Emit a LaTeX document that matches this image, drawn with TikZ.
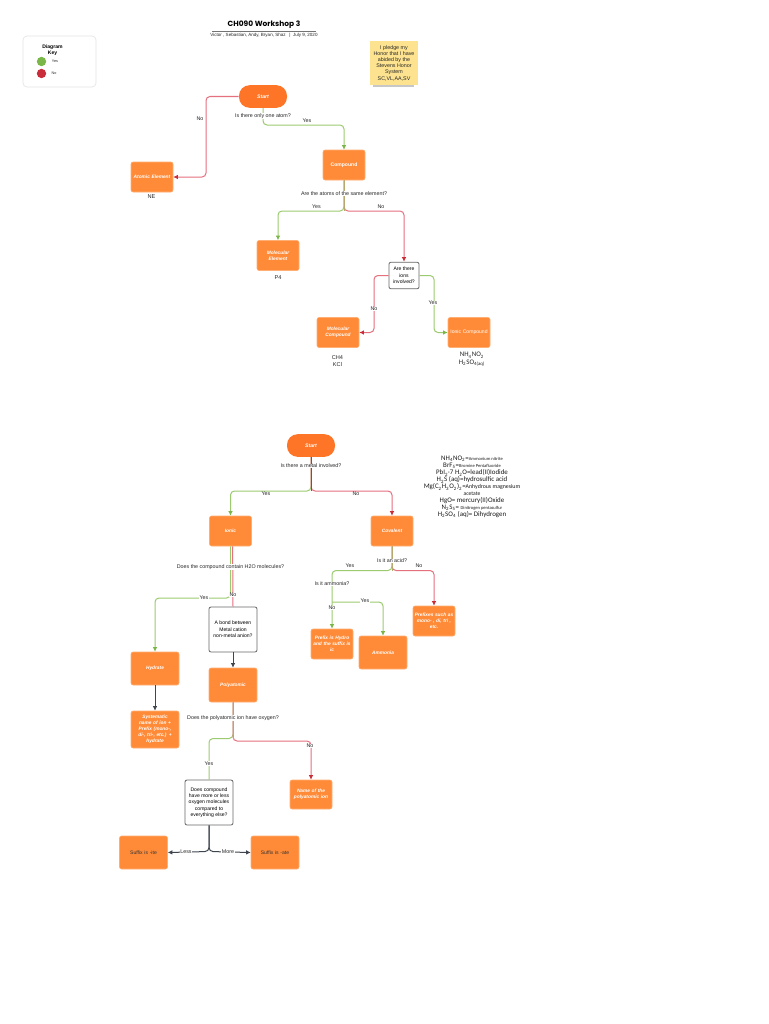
\documentclass[tikz,border=0pt]{standalone}
\usepackage{fontspec}
\setmainfont{Liberation Sans}
\newfontfamily\listfont{Carlito}
\newfontfamily\titlefont{Poppins}
\usetikzlibrary{arrows.meta,positioning,calc}
\definecolor{okg}{HTML}{7AB648}
\definecolor{nor}{HTML}{C92D39}
\definecolor{okgl}{HTML}{9CCB6F}
\definecolor{norl}{HTML}{E5707E}
\definecolor{boxo}{HTML}{FF8B38}
\definecolor{starto}{HTML}{FF7527}
\definecolor{notey}{HTML}{FDE38F}
\definecolor{dk}{HTML}{3F4650}
\definecolor{stemtan}{HTML}{B8A870}
\newcommand{\fs}[1]{\fontsize{#1pt}{\dimexpr #1pt*5/4\relax}\selectfont}
\newcommand{\sbs}[1]{\textsubscript{#1}}
\tikzset{
  x=.75pt,y=-.75pt,
  obox/.style 2 args={draw=boxo!70!white,line width=.4pt,fill=boxo,rounded corners=1.5pt,minimum width=#1*.75pt,minimum height=#2*.75pt,text width=#1*.75pt-1pt,inner sep=0pt,align=center,text=white,font=\fs{3.6}\itshape\bfseries},
  qbox/.style={draw=black!60,fill=white,rounded corners=1.5pt,line width=.6pt,inner sep=0pt,align=center,text=black,font=\fs{3.8}},
  startbox/.style={fill=starto,rounded corners=8pt,minimum width=36pt,minimum height=17pt,inner sep=0pt,text=white,font=\fs{3.8}\itshape\bfseries},
  lbl/.style={fill=white,inner sep=.4pt,text=black!85,font=\fs{4}},
  bare/.style={inner sep=0pt,text=black!85,align=center,font=\fs{3.8}},
  yesl/.style={draw=okgl,line width=.75pt,rounded corners=3pt,-{Latex[length=3.5pt,width=3.5pt,color=okg]}},
  nol/.style={draw=norl,line width=.75pt,rounded corners=3pt,-{Latex[length=3.5pt,width=3.5pt,color=nor]}},
  darkl/.style={draw=dk,line width=.75pt,rounded corners=3pt,-{Latex[length=3.5pt,width=3.5pt,color=dk]}},
  stem/.style={draw=#1,line width=.75pt},
}
\begin{document}
\begin{tikzpicture}
\useasboundingbox (0,0) rectangle (768,1024);
\fill[white] (0,0) rectangle (768,1024);

% header
\node[inner sep=0pt,font=\titlefont\fs{5.6}\bfseries] (title) at (264,25) {CH090 Workshop 3};
\coordinate (rulel) at (212,31); \coordinate (ruler) at (316,31);
\draw[black!55,line width=.4pt] (rulel) -- (ruler);
\node[bare,font=\fs{3.4}] (sub) at (264,35) {Victor , Sebastian, Andy, Bryan, Shaz \ \ | \ July 9, 2020};

% key
\node[draw=black!10,fill=white,rounded corners=3pt,minimum width=54.75pt,minimum height=38.25pt,line width=.5pt] (key) at (59.5,61.5) {};
\node[bare,font=\fs{3.8}\bfseries,text=black] (keyt) at (52.5,50.5) {Diagram\\Key};
\node[circle,fill=okg,minimum size=7pt,inner sep=0pt] (keyg) at (41.5,61.5) {};
\node[circle,fill=nor,minimum size=7pt,inner sep=0pt] (keyr) at (41.5,73.5) {};
\node[bare,font=\fs{2.8}] (keyy) at (55,61) {Yes};
\node[bare,font=\fs{2.8}] (keyn) at (54,73) {No};

% note
\fill[black!22] (373,83) rectangle (414,87);
\node[fill=notey,minimum width=36pt,minimum height=33pt,inner sep=0pt,align=center,font=\fontsize{4}{4.65}\selectfont,text=black!85] (note) at (394,63) {I pledge my\\Honor that I have\\abided by the\\Stevens Honor\\System\\SC,VL,AA,SV};

% part 1 nodes
\node[startbox] (s1) at (263,96.5) {Start};
\node[obox={42}{30}] (atomic) at (152,177) {Atomic Element};
\node[obox={42}{30},font=\fs{3.8}\bfseries] (comp) at (344,165) {Compound};
\node[obox={42}{30}] (molel) at (278,255.5) {Molecular\\Element};
\node[qbox,minimum width=22.5pt,minimum height=20pt] (ions) at (404,275.5) {Are there\\ions\\involved?};
\node[obox={42}{30}] (molc) at (338,332.5) {Molecular\\Compound};
\node[obox={42}{30},font=\fs{3.8}] (ionc) at (469,332.5) {Ionic Compound};

% part 1 bends
\coordinate (b1) at (263,125); \coordinate (b2) at (206,140);
\coordinate (b3) at (344,211); \coordinate (b4) at (374,310); \coordinate (b5) at (434,310);
\draw[yesl] (s1.south) -- (b1) -| (comp.north);
\draw[nol] (s1.west) -| (b2) |- (atomic.east);
\draw[yesl] (comp.south) -- (b3) -| (molel.north);
\draw[nol] (comp.south) -- (b3) -| (ions.north);
\draw[stem=stemtan] (comp.south) -- (b3);
\draw[nol] (ions.west) -| (b4) |- (molc.east);
\draw[yesl] (ions.east) -| (b5) |- (ionc.west);

\node[lbl] (q1) at (263,116) {Is there only one atom?};
\node[lbl] (y1) at (307,120.5) {Yes};
\node[lbl] (n1) at (200,119) {No};
\node[lbl] (q2) at (344,193.5) {Are the atoms of the same element?};
\node[lbl] (y2) at (316.5,207) {Yes};
\node[lbl] (n2) at (381,207) {No};
\node[lbl] (n3) at (374,309) {No};
\node[lbl] (y3) at (433,303) {Yes};
\node[bare,font=\fs{4.2}] (ne) at (151.5,197) {NE};
\node[bare,font=\fs{4.2}] (p4) at (278,278) {P4};
\node[bare,font=\fs{4.2}] (ch4) at (337.5,361.5) {CH4\\KCl};
\node[bare,font=\listfont\fontsize{5.2}{5.6}\selectfont] (nh) at (472,359.5) {NH\sbs{4}NO\sbs{2}\\H\sbs{2}SO\sbs{4(aq)}};

% part 2 nodes
\node[startbox] (s2) at (311,445.5) {Start};
\node[obox={42}{30}] (ionic) at (230.5,531) {Ionic};
\node[obox={42}{30}] (cov) at (392,531) {Covalent};
\node[obox={48}{33}] (hyd) at (155,668.5) {Hydrate};
\node[obox={48}{37}] (sys) at (155,729.5) {Systematic\\name of ion +\\Prefix (mono-,\\di-, tri-, etc.) +\\hydrate};
\node[qbox,minimum width=36pt,minimum height=33.75pt] (bond) at (233,629.5) {A bond between\\Metal cation\\non-metal anion?};
\node[obox={48}{34}] (poly) at (233,685) {Polyatomic};
\node[obox={42}{30}] (hydro) at (332,644) {Prefix is Hydro\\and the suffix is\\ic};
\node[obox={48}{33}] (amm) at (383,652.5) {Ammonia};
\node[obox={42}{30}] (pref) at (434,621) {Prefixes such as\\mono- , di, tri ,\\etc.};
\node[qbox,minimum width=36pt,minimum height=33.75pt] (more) at (209,802.5) {Does compound\\have more or less\\oxygen molecules\\compared to\\everything else?};
\node[obox={42}{29}] (npoly) at (311,794.5) {Name of the\\polyatomic ion};
\node[obox={48}{33},text=black!80,font=\fs{3.8}] (ite) at (143.5,852.5) {Suffix is -ite};
\node[obox={48}{33},text=black!80,font=\fs{3.8}] (ate) at (275,852.5) {Suffix is -ate};

% part 2 bends
\coordinate (c1) at (311,491); \coordinate (c2) at (392,570.5);
\coordinate (c3) at (230.5,598); \coordinate (c4) at (233,738.5);
\coordinate (c5) at (332,602); \coordinate (c6) at (209,851.5); \coordinate (c7) at (233,741);
\draw[yesl] (s2.south) -- (c1) -| (ionic.north);
\draw[nol] (s2.south) -- (c1) -| (cov.north);
\draw[stem=nor] (s2.south) -- (c1);
\draw[yesl] (cov.south) -- (c2) -| (hydro.north);
\draw[nol] (cov.south) -- (c2) -| (pref.north);
\draw[stem=stemtan] (cov.south) -- (c2);
\draw[yesl] (c5) -| (amm.north);
\draw[yesl] (ionic.south) -- (c3) -| (hyd.north);
\draw[draw=norl,line width=.75pt] ([xshift=1.6pt]ionic.south) -- (bond.north);
\draw[darkl] (bond.south) -- (poly.north);
\draw[darkl] (hyd.south) -- (sys.north);
\draw[yesl,-] (poly.south) -- (c4) -| (more.north);
\draw[nol] (poly.south) -- (c7) -| (npoly.north);
\draw[stem=stemtan] (poly.south) -- (c4);
\draw[darkl] (more.south) -- (c6) -- (ite.east);
\draw[darkl] (more.south) -- (c6) -- (ate.west);

\node[lbl] (q3) at (311,466) {Is there a metal involved?};
\node[lbl] (y4) at (266,494) {Yes};
\node[lbl] (n4) at (356,494) {No};
\node[lbl] (q4) at (230.5,567) {Does the compound contain H2O molecules?};
\node[lbl] (y5) at (204,598) {Yes};
\node[lbl] (n5) at (233,595) {No};
\node[lbl] (q5) at (392,561) {Is it an acid?};
\node[lbl] (y6) at (350,566) {Yes};
\node[lbl] (n6) at (419,566) {No};
\node[lbl] (q6) at (332,584) {Is it ammonia?};
\node[lbl] (y7) at (365,601) {Yes};
\node[lbl] (n7) at (332,608) {No};
\node[lbl] (q7) at (233,718) {Does the polyatomic ion have oxygen?};
\node[lbl] (y8) at (209,763.5) {Yes};
\node[lbl] (n8) at (310,746) {No};
\node[lbl] (l1) at (186,851.5) {Less};
\node[lbl] (m1) at (228,851.5) {More};

% formula list
\node[bare,font=\listfont\fs{5.2},text=black!90] (list) at (472,487) {%
NH\sbs{4}NO\sbs{2}={\fs{3.4}Ammonium nitrite}\\[-1.2pt]
BrF\sbs{5}={\fs{3.4}Bromine Pentafluoride}\\[-1.2pt]
PbI\sbs{2}·7 H\sbs{2}O=lead(II)Iodide\\[-1.2pt]
H\sbs{2}S (aq)=hydrosulfic acid\\[-1.2pt]
Mg(C\sbs{2}H\sbs{3}O\sbs{2})\sbs{2}={\fs{4.4}Anhydrous magnesium}\\[-1.8pt]
{\fs{4.2}acetate}\\[-1pt]
HgO= mercury(II)Oxide\\[-1.2pt]
N\sbs{2}S\sbs{5}= {\fs{3.4}Dinitrogen pentasulfur}\\[-1.2pt]
H\sbs{2}SO\sbs{4} (aq)= Dihydrogen};
\end{tikzpicture}
\end{document}
